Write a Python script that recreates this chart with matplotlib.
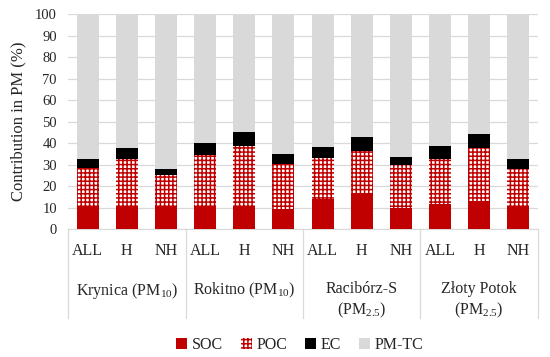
import numpy as np
import matplotlib
matplotlib.use("Agg")
import matplotlib.pyplot as plt
from matplotlib.patches import Patch
from matplotlib.transforms import blended_transform_factory

plt.rcParams.update({
    "font.family": ["Liberation Serif", "DejaVu Serif"],
    "mathtext.default": "regular",
    "hatch.linewidth": 1.1,
})

# data (percent of PM)
groups = ["Krynica (PM$_{10}$)", "Rokitno (PM$_{10}$)",
          "Racibórz-S\n(PM$_{2.5}$)", "Złoty Potok\n(PM$_{2.5}$)"]
subcats = ["ALL", "H", "NH"]
soc = [10.5, 10.3, 10.6, 10.3, 10.6, 9.4, 13.9, 16.7, 9.8, 11.6, 13.0, 10.2]
poc = [17.8, 22.2, 14.4, 23.9, 27.8, 20.8, 19.1, 19.7, 19.8, 20.9, 24.5, 17.8]
ec = [4.2, 5.1, 2.9, 5.8, 6.6, 4.6, 5.0, 6.3, 4.1, 5.9, 6.5, 4.7]
pm_tc = [100 - a - b - c for a, b, c in zip(soc, poc, ec)]

red = "#C00000"
grey = "#D9D9D9"
txt = "#262626"

fig = plt.figure(figsize=(5.5, 3.57), dpi=100)
ax = fig.add_axes([68 / 550, 1 - 229 / 357, 470 / 550, 215 / 357])

x = np.arange(len(soc))
w = 0.56
b1 = np.array(soc)
b2 = b1 + np.array(poc)
b3 = b2 + np.array(ec)
ax.bar(x, soc, w, color=red, zorder=3)
ax.bar(x, poc, w, bottom=b1, color="white", edgecolor=red, hatch="++++",
       linewidth=0, zorder=3)
ax.bar(x, ec, w, bottom=b2, color="black", zorder=3)
ax.bar(x, pm_tc, w, bottom=b3, color=grey, zorder=3)

ax.set_xlim(-0.5, len(soc) - 0.5)
ax.set_ylim(0, 100)
ax.set_yticks(range(0, 101, 10))
ax.yaxis.grid(True, color=grey, linewidth=0.9, zorder=0)
ax.tick_params(axis="y", length=0, labelsize=10.5, labelcolor=txt, pad=8)
ax.tick_params(axis="x", length=0, labelsize=11.5, labelcolor=txt, pad=10)
ax.set_xticks(x)
ax.set_xticklabels(subcats * len(groups))
for s in ["top", "right", "left"]:
    ax.spines[s].set_visible(False)
ax.spines["bottom"].set_color(grey)
ax.set_ylabel("Contribution in PM (%)", fontsize=12, color=txt, labelpad=6)

trans = blended_transform_factory(ax.transData, ax.transAxes)
for i in range(len(groups) + 1):
    xs = i * 3 - 0.5
    ax.plot([xs, xs], [0, -0.415], transform=trans, color=grey,
            linewidth=0.9, clip_on=False)
for i, g in enumerate(groups):
    ax.text(i * 3 + 1, -0.24, g, transform=trans, ha="center", va="top",
            fontsize=11.5, color=txt, linespacing=1.3)

handles = [Patch(facecolor=red, label="SOC"),
           Patch(facecolor="white", edgecolor=red, hatch="++++", linewidth=0,
                 label="POC"),
           Patch(facecolor="black", label="EC"),
           Patch(facecolor=grey, label="PM-TC")]
leg = fig.legend(handles=handles, loc="center", bbox_to_anchor=(0.545, 1 - 345 / 357),
                 ncol=4, frameon=False, fontsize=11.5, handlelength=0.7,
                 handleheight=0.7, handletextpad=0.3, columnspacing=1.1)
for t in leg.get_texts():
    t.set_color(txt)

fig.savefig("out.png", dpi=100)
